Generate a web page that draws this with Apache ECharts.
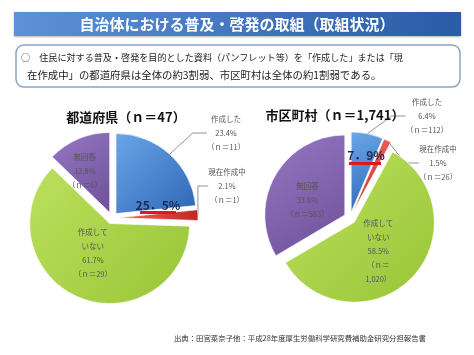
<!DOCTYPE html>
<html><head><meta charset="utf-8">
<script src="https://cdn.jsdelivr.net/npm/echarts@6/dist/echarts.min.js"></script>
<style>html,body{margin:0;padding:0;background:#fff;}#c{width:474px;height:355px;}</style>
</head><body><div id="c"></div>
<script>
const categories = ['作成した', '現在作成中', '作成していない', '無回答'];
const labelNames = ['作成した', '現在作成中', '作成して\nいない', '無回答'];
const prefValues = [11, 1, 29, 6];
const prefPct = ['23.4%', '2.1%', '61.7%', '12.8%'];
const prefN = ['（ｎ＝11）', '（ｎ＝1）', '（ｎ＝29）', '（ｎ＝6）'];
const muniValues = [112, 26, 1020, 583];
const muniPct = ['6.4%', '1.5%', '58.5%', '33.6%'];
const muniN = ['（ｎ＝112）', '（ｎ＝26）', '（ｎ＝\n1,020）', '（ｎ＝583）'];
const prefTitle = '都道府県（ｎ＝47）';
const muniTitle = '市区町村（ｎ＝1,741）';
const prefSum = '25．5%';
const muniSum = '7．9%';
const titleText = '自治体における普及・啓発の取組（取組状況）';
const noteLines = ['○　住民に対する普及・啓発を目的とした資料（パンフレット等）を「作成した」または「現', '在作成中」の都道府県は全体の約3割弱、市区町村は全体の約1割弱である。'];
const sourceText = '出典：田宮菜奈子他：平成28年度厚生労働科学研究費補助金研究分担報告書';

const FONT = '"Noto Sans CJK JP", "Noto Sans", sans-serif';
const OFF = 6;
function grad(c1, c2) {
  return {type: 'linear', x: 0, y: 0, x2: 1, y2: 1, colorStops: [{offset: 0, color: c1}, {offset: 1, color: c2}]};
}
const colors = [grad('#6aa6e8', '#2f66b6'), grad('#f06a5e', '#c0271f'), grad('#bde05e', '#98c536'), grad('#9677c2', '#6d4f9a')];

// one series per slice so that each slice can be pulled out from the centre (exploded pie)
function sliceSeries(center, values, pct, ns, k, labelPos) {
  const total = values.reduce((a, b) => a + b, 0);
  const before = values.slice(0, k).reduce((a, b) => a + b, 0);
  const mid = (before + values[k] / 2) / total * 2 * Math.PI;
  const c = [center[0] + OFF * Math.sin(mid), center[1] - OFF * Math.cos(mid)];
  const data = values.map((v, i) => {
    if (i !== k) {
      return {name: categories[i], value: v, itemStyle: {color: 'rgba(0,0,0,0)', borderWidth: 0}, label: {show: false}, labelLine: {show: false}};
    }
    return {
      name: categories[i], value: v,
      itemStyle: {color: colors[i]},
      label: {show: true, position: (i < 2) ? 'outside' : 'inside', formatter: labelNames[i] + '\n' + pct[i] + '\n' + ns[i]},
      labelLine: {show: i < 2}
    };
  });
  return {
    type: 'pie', center: c, radius: 80, startAngle: 90, clockwise: true,
    silent: true, animation: false, avoidLabelOverlap: false,
    itemStyle: {borderColor: '#ffffff', borderWidth: 0.6},
    label: {fontFamily: FONT, fontSize: 7.5, lineHeight: 14, color: '#555', align: 'center', overflow: 'none'},
    labelLine: {lineStyle: {color: '#777', width: 0.8}, length: 10, length2: 14},
    labelLayout: function (p) {
      if (p.dataIndex !== k) return {};
      const o = labelPos[k];
      if (k < 2) return {x: o[0], y: o[1], align: 'center', verticalAlign: 'middle'};
      return {dx: o[0], dy: o[1]};
    },
    data: data
  };
}

// outside labels: absolute position; inside labels: small nudge
const prefLabelPos = {0: [226, 133], 1: [227, 186], 2: [0, -10], 3: [-8, -2]};
const muniLabelPos = {0: [427, 116], 1: [438, 163], 2: [-7, -1], 3: [0, 6]};
const series = [];
for (let k = 0; k < 4; k++) series.push(sliceSeries([112, 218], prefValues, prefPct, prefN, k, prefLabelPos));
for (let k = 0; k < 4; k++) series.push(sliceSeries([350, 218], muniValues, muniPct, muniN, k, muniLabelPos));

const chart = echarts.init(document.getElementById('c'), null, {renderer: 'canvas'});
chart.setOption({
  backgroundColor: '#ffffff',
  series: series,
  graphic: [
    {type: 'rect', shape: {x: 14, y: 12, width: 447, height: 24}, style: {fill: grad('#5d92d6', '#2a5ba6'), shadowBlur: 2, shadowColor: 'rgba(0,0,0,0.3)', shadowOffsetY: 1}, z: 10},
    {type: 'text', x: 237, y: 24, style: {text: titleText, fill: '#fff', font: 'bold 15px ' + FONT, textAlign: 'center', textVerticalAlign: 'middle'}, z: 11},
    {type: 'rect', shape: {x: 16, y: 45, width: 444, height: 42, r: 8}, style: {fill: '#fff', stroke: '#8aa2c6', lineWidth: 1.5}, z: 10},
    {type: 'text', x: 21, y: 58, style: {text: noteLines[0], fill: '#222', font: '9.1px ' + FONT, textVerticalAlign: 'middle'}, z: 11},
    {type: 'text', x: 27, y: 75, style: {text: noteLines[1], fill: '#222', font: '10.4px ' + FONT, textVerticalAlign: 'middle'}, z: 11},
    {type: 'text', x: 126, y: 117, style: {text: prefTitle, fill: '#111', font: 'bold 13px ' + FONT, textAlign: 'center', textVerticalAlign: 'middle'}, z: 11},
    {type: 'text', x: 335, y: 115, style: {text: muniTitle, fill: '#111', font: 'bold 13px ' + FONT, textAlign: 'center', textVerticalAlign: 'middle'}, z: 11},
    {type: 'rect', shape: {x: 140, y: 211, width: 36, height: 3}, style: {fill: '#e01818'}, z: 20},
    {type: 'text', x: 158, y: 205, style: {text: prefSum, fill: '#1c2a55', font: 'bold 12px ' + FONT, textAlign: 'center', textVerticalAlign: 'middle'}, z: 21},
    {type: 'rect', shape: {x: 349, y: 162, width: 32, height: 3}, style: {fill: '#e01818'}, z: 20},
    {type: 'text', x: 366, y: 155, style: {text: muniSum, fill: '#1c2a55', font: 'bold 12px ' + FONT, textAlign: 'center', textVerticalAlign: 'middle'}, z: 21},
    {type: 'text', x: 426, y: 338, style: {text: sourceText, fill: '#333', font: '7.4px ' + FONT, textAlign: 'right', textVerticalAlign: 'middle'}, z: 11}
  ]
});
</script></body></html>
